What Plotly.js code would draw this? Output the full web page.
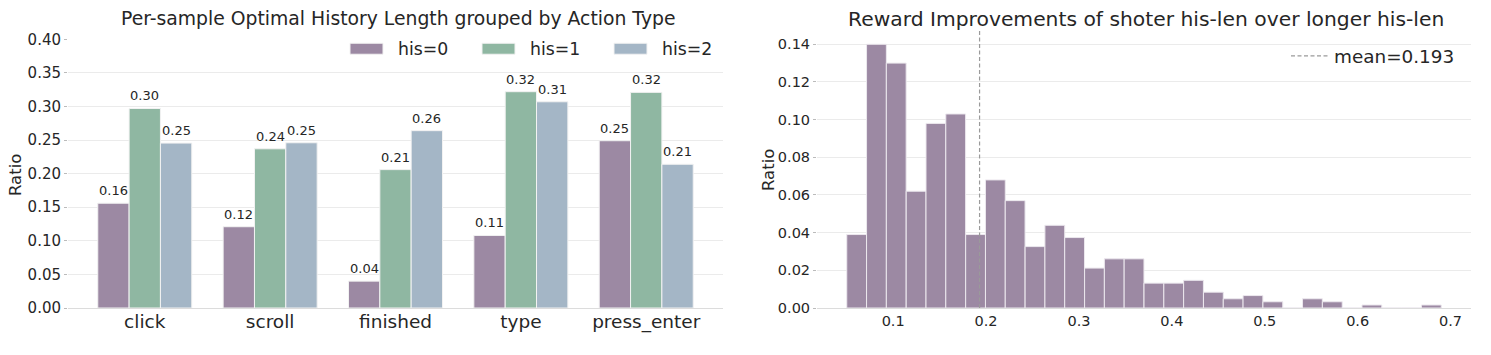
<!DOCTYPE html>
<html>
<head>
<meta charset="utf-8">
<script src="https://cdn.plot.ly/plotly-3.0.1.min.js"></script>
<style>html,body{margin:0;padding:0;background:#fff;}#chart{width:1491px;height:355px;}</style>
</head>
<body>
<div id="chart"></div>
<script>
// ---- Left chart data ----
const actionTypes = ["click", "scroll", "finished", "type", "press_enter"];
const seriesNames = ["his=0", "his=1", "his=2"];
const his0 = [0.156, 0.121, 0.040, 0.108, 0.249];
const his1 = [0.297, 0.237, 0.206, 0.322, 0.321];
const his2 = [0.2455, 0.246, 0.264, 0.307, 0.214];
const leftYTicks = [0, 0.05, 0.10, 0.15, 0.20, 0.25, 0.30, 0.35, 0.40];

// ---- Right chart data (histogram) ----
const binCenters = [0.0607, 0.0820, 0.1033, 0.1247, 0.1460, 0.1673, 0.1887, 0.2100, 0.2313, 0.2527,
                    0.2740, 0.2953, 0.3167, 0.3380, 0.3593, 0.3807, 0.4020, 0.4233, 0.4447, 0.4660,
                    0.4873, 0.5087, 0.5300, 0.5513, 0.5727, 0.5940, 0.6153, 0.6367, 0.6580, 0.6793];
const binRatio = [0.039, 0.140, 0.130, 0.062, 0.098, 0.103, 0.039, 0.068, 0.057, 0.0326,
                  0.0439, 0.0374, 0.0212, 0.0261, 0.0261, 0.0132, 0.0132, 0.0147, 0.0084, 0.0049,
                  0.0066, 0.0033, 0, 0.0049, 0.0033, 0, 0.0016, 0, 0, 0.0016];
const binWidth = 0.02133;
const meanValue = 0.193;
const rightXTicks = [0.1, 0.2, 0.3, 0.4, 0.5, 0.6, 0.7];
const rightYTicks = [0, 0.02, 0.04, 0.06, 0.08, 0.10, 0.12, 0.14];

const FONT = "DejaVu Sans, sans-serif";
const TXT = "#262626";
const colors = ["#9c89a3", "#8fb7a2", "#a4b6c6"];
const W = 1491, H = 355;

const seriesVals = [his0, his1, his2];
const traces = seriesVals.map((vals, j) => ({
  type: "bar", x: actionTypes, y: vals, name: seriesNames[j],
  xaxis: "x", yaxis: "y", legend: "legend",
  marker: {color: colors[j], line: {color: "#f2f2f2", width: 1}},
  hoverinfo: "x+y"
}));

traces.push({
  type: "bar", x: binCenters, y: binRatio, width: binWidth,
  xaxis: "x2", yaxis: "y2", showlegend: false,
  marker: {color: "#9c89a3", line: {color: "#ece8ee", width: 1}}
});

const yTop2 = 0.147;
traces.push({
  type: "scatter", mode: "lines", x: [meanValue, meanValue], y: [0, yTop2],
  xaxis: "x2", yaxis: "y2", name: "mean=" + meanValue, legend: "legend2",
  line: {color: "#9a9a9a", width: 1.2, dash: "4px,2.5px"}
});

// value labels
const annotations = [];
seriesVals.forEach((vals, j) => {
  vals.forEach((v, i) => {
    annotations.push({
      x: i + (j - 1) * 0.25, y: v, xref: "x", yref: "y",
      text: v.toFixed(2), showarrow: false, yanchor: "bottom", yshift: 3,
      font: {family: FONT, size: 13, color: TXT}
    });
  });
});
annotations.push({
  xref: "paper", yref: "paper", x: 398 / W, y: 1 - 18 / H, xanchor: "center", yanchor: "middle",
  text: "Per-sample Optimal History Length grouped by Action Type", showarrow: false,
  font: {family: FONT, size: 18.8, color: TXT}
});
annotations.push({
  xref: "paper", yref: "paper", x: 1146 / W, y: 1 - 19 / H, xanchor: "center", yanchor: "middle",
  text: "Reward Improvements of shoter his-len over longer his-len", showarrow: false,
  font: {family: FONT, size: 20.3, color: TXT}
});
// y-axis titles
annotations.push({
  xref: "paper", yref: "paper", x: 15 / W, y: 1 - 175 / H, xanchor: "center", yanchor: "middle",
  text: "Ratio", textangle: -90, showarrow: false, font: {family: FONT, size: 16.5, color: TXT}
});
annotations.push({
  xref: "paper", yref: "paper", x: 768 / W, y: 1 - 170 / H, xanchor: "center", yanchor: "middle",
  text: "Ratio", textangle: -90, showarrow: false, font: {family: FONT, size: 16.5, color: TXT}
});

const grid = "#ebebeb";
const layout = {
  width: W, height: H,
  margin: {l: 0, r: 0, t: 0, b: 0},
  paper_bgcolor: "#fff", plot_bgcolor: "#fff",
  font: {family: FONT, color: TXT},
  barmode: "group", bargap: 0.25, bargroupgap: 0,
  xaxis: {
    domain: [68 / W, 723 / W], anchor: "y", type: "category",
    range: [-0.6125, 4.6125], showgrid: false, zeroline: false,
    showline: true, linecolor: "#dcdcdc", linewidth: 1, ticks: "",
    ticklabelstandoff: -3,
    tickfont: {family: FONT, size: 18.5, color: TXT}, fixedrange: true
  },
  yaxis: {
    domain: [47 / H, 1 - 39.3 / H], anchor: "x",
    range: [0, 0.4], tickvals: leftYTicks, tickformat: ".2f",
    showgrid: true, gridcolor: grid, gridwidth: 1, zeroline: false, showline: false,
    ticks: "outside", ticklen: 3, tickcolor: "#bbbbbb", tickwidth: 1,
    tickfont: {family: FONT, size: 15, color: TXT}
  },
  xaxis2: {
    domain: [817 / W, 1471 / W], anchor: "y2",
    range: [0.018, 0.722], tickvals: rightXTicks, tickformat: ".1f",
    showgrid: false, zeroline: false, showline: true, linecolor: "#dcdcdc", linewidth: 1,
    ticks: "", tickfont: {family: FONT, size: 14.5, color: TXT}
  },
  yaxis2: {
    domain: [47 / H, 1 - 31.1 / H], anchor: "x2",
    range: [0, yTop2], tickvals: rightYTicks, tickformat: ".2f",
    showgrid: true, gridcolor: grid, gridwidth: 1, zeroline: false, showline: false,
    ticks: "outside", ticklen: 3, tickcolor: "#bbbbbb", tickwidth: 1,
    tickfont: {family: FONT, size: 14.5, color: TXT}
  },
  legend: {
    orientation: "h", x: 335 / W, xanchor: "left", y: 1 - 49 / H, yanchor: "middle",
    bgcolor: "rgba(255,255,255,0)", font: {family: FONT, size: 17.3, color: TXT},
    itemwidth: 53, entrywidth: 64, traceorder: "normal"
  },
  legend2: {
    x: 1460 / W, xanchor: "right", y: 1 - 56 / H, yanchor: "middle",
    bgcolor: "rgba(255,255,255,0)", font: {family: FONT, size: 18.4, color: TXT},
    itemwidth: 38
  },
  annotations: annotations,
  showlegend: true
};

Plotly.newPlot("chart", traces, layout, {displayModeBar: false, staticPlot: true}).then(() => {
  // widen the bar legend swatches to match the reference rectangles
  document.querySelectorAll("g.legend .legendpoints path").forEach(p => {
    p.setAttribute("d", "M16.5,5.5H-16.5V-5.5H16.5Z");
  });
});
</script>
</body>
</html>
